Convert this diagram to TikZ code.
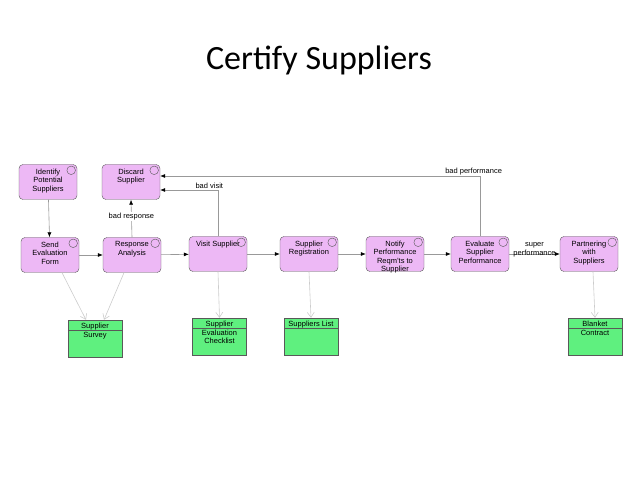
\documentclass[tikz,border=0pt]{standalone}
\usepackage{fontspec}
\setmainfont{Liberation Sans}
\newfontfamily\titlefont{Carlito}
\usetikzlibrary{arrows.meta}
\definecolor{proc}{HTML}{EDB8F5}
\definecolor{doc}{HTML}{5FF07F}
\tikzset{
 proc/.style={draw=gray!70!black,fill=proc,rounded corners=4pt,minimum width=58pt,minimum height=35pt,inner sep=0pt},
 ptxt/.style={font=\fontsize{7.5}{8.5}\selectfont,align=center,anchor=north},
 doc/.style={draw=gray!70!black,fill=doc,minimum width=54pt,minimum height=37pt,inner sep=0pt},
 flowk/.style={draw=gray!80,line width=0.6pt,-{Latex[length=5pt,width=4pt,black]}},
 assoc/.style={draw=gray!40,line width=0.6pt,-{Straight Barb[length=5pt,width=7pt]}},
 lab/.style={font=\fontsize{7.5}{9}\selectfont,fill=white,inner sep=1pt}
}
\newcommand{\procnode}[3]{%
 \node[proc] (#1) at (#2) {};
 \draw[gray!70!black,fill=proc] ([xshift=-6pt,yshift=-6pt]#1.north east) circle (4.3pt);
 \node[ptxt] (#1t) at ([yshift=-1pt]#1.north) {#3};}
\newcommand{\docnode}[3]{%
 \node[doc] (#1) at (#2) {};
 \draw[gray!70!black] ([yshift=-10pt]#1.north west) -- ([yshift=-10pt]#1.north east);
 \node[ptxt] (#1t) at ([yshift=0pt]#1.north) {#3};}
\begin{document}
\begin{tikzpicture}[x=1pt,y=-1pt]
\useasboundingbox (0,0) rectangle (638,478);
\node[font=\titlefont\fontsize{34}{36}\selectfont] (title) at (319,60) {Certify Suppliers};
\procnode{ident}{48,182}{Identify\\Potential\\Suppliers}
\procnode{disc}{131,182}{Discard\\Supplier}
\procnode{send}{50,255}{Send\\Evaluation\\Form}
\procnode{resp}{132,255}{Response\\Analysis}
\procnode{visit}{218,254}{Visit Supplier}
\procnode{reg}{309,254}{Supplier\\Registration}
\procnode{notify}{395,254}{Notify\\Performance\\Reqm'ts to\\Supplier}
\procnode{eval}{480,254}{Evaluate\\Supplier\\Performance}
\procnode{part}{589,254}{Partnering\\with\\Suppliers}
\docnode{survey}{95,338.5}{Supplier\\Survey}
\docnode{check}{219.5,336.5}{Supplier\\Evaluation\\Checklist}
\docnode{list}{311,336.5}{Suppliers List}
\docnode{blank}{595,336.5}{Blanket\\Contract}
\draw[flowk] (ident) -- (send);
\draw[flowk] (send) -- (resp);
\draw[flowk] (resp) -- (visit);
\draw[flowk] (visit) -- (reg);
\draw[flowk] (reg) -- (notify);
\draw[flowk] (notify) -- (eval);
\draw[flowk] (eval) -- node[lab,above,fill=none,align=center,yshift=-4pt]{super\\performance} (part);
\draw[flowk] (resp.north) -- node[lab,pos=0.55]{bad response} (disc.south);
\coordinate (bv) at (visit.north |- 0,190);
\coordinate (bp) at (eval.north |- 0,176);
\draw[flowk] (visit.north) -- (bv) -- node[lab,pos=0.15,above,fill=none]{bad visit} (disc.east |- bv);
\draw[flowk] (eval.north) -- (bp) -- node[lab,pos=0.02,above,fill=none]{bad performance} (disc.east |- bp);
\draw[assoc] ([xshift=12pt]send.south) -- ([xshift=-9pt]survey.north);
\draw[assoc] ([xshift=-8pt]resp.south) -- ([xshift=9pt]survey.north);
\draw[assoc] (visit.south) -- (check.north);
\draw[assoc] (reg.south) -- (list.north);
\draw[assoc] ([xshift=4pt]part.south) -- (blank.north);
\end{tikzpicture}
\end{document}
